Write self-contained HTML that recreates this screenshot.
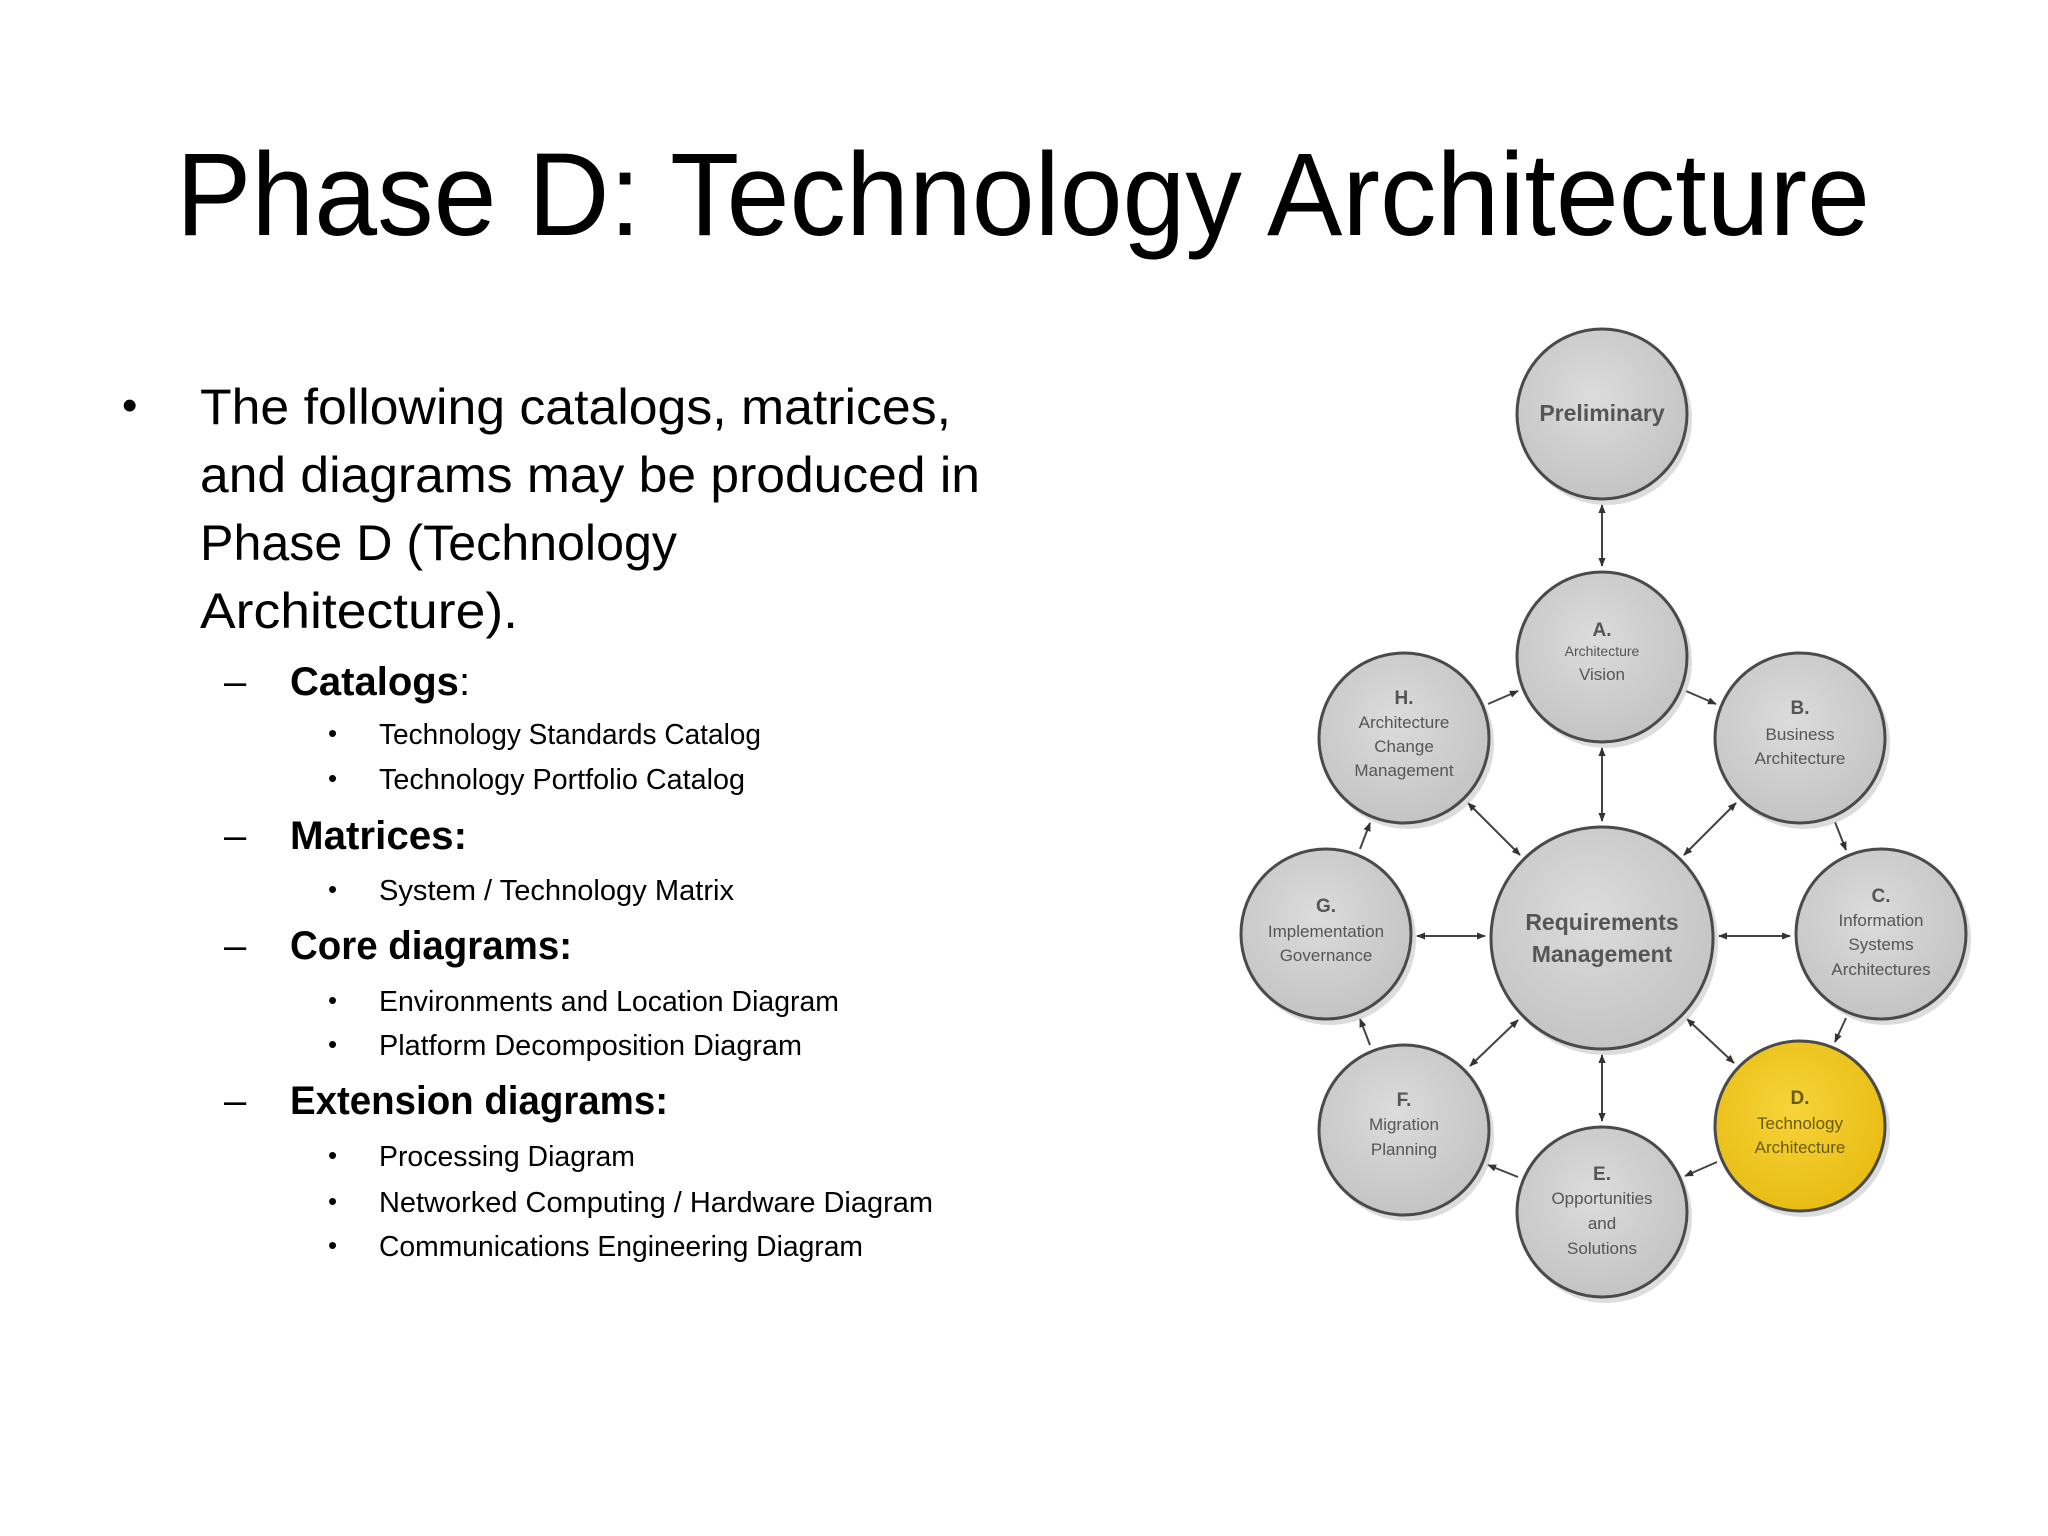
<!DOCTYPE html>
<html><head><meta charset="utf-8"><style>
html,body{margin:0;padding:0;background:#fff;}
svg{display:block}
</style></head><body>
<svg width="2048" height="1536" viewBox="0 0 2048 1536" xmlns="http://www.w3.org/2000/svg" font-family="Liberation Sans, sans-serif">
<defs>
<marker id="ah" viewBox="0 0 10 10" refX="9" refY="5" markerWidth="9" markerHeight="9" orient="auto-start-reverse" markerUnits="userSpaceOnUse"><path d="M0,1 L10,5 L0,9 z" fill="#333"/></marker>
<radialGradient id="g" cx="45%" cy="40%" r="60%"><stop offset="0" stop-color="#dcdcdc"/><stop offset="1" stop-color="#c4c4c4"/></radialGradient>
<radialGradient id="y" cx="45%" cy="40%" r="60%"><stop offset="0" stop-color="#f7d43a"/><stop offset="1" stop-color="#e8bd14"/></radialGradient>
</defs>
<rect width="2048" height="1536" fill="#fff"/>
<text x="176" y="235" font-size="118" fill="#000" textLength="1694" lengthAdjust="spacingAndGlyphs">Phase D: Technology Architecture</text>

<g fill="#000">
<text x="122" y="420" font-size="44">•</text>
<text x="200" y="424" font-size="50" textLength="751" lengthAdjust="spacingAndGlyphs">The following catalogs, matrices,</text>
<text x="200" y="492" font-size="50" textLength="780" lengthAdjust="spacingAndGlyphs">and diagrams may be produced in</text>
<text x="200" y="560" font-size="50" textLength="477" lengthAdjust="spacingAndGlyphs">Phase D (Technology</text>
<text x="200" y="628" font-size="50" textLength="318" lengthAdjust="spacingAndGlyphs">Architecture).</text>

<text x="224" y="695" font-size="40">–</text>
<text x="290" y="695" font-size="40"><tspan font-weight="bold">Catalogs</tspan>:</text>
<text x="328" y="742" font-size="26">•</text><text x="379" y="744" font-size="29" textLength="382" lengthAdjust="spacingAndGlyphs">Technology Standards Catalog</text>
<text x="328" y="787" font-size="26">•</text><text x="379" y="789" font-size="29" textLength="366" lengthAdjust="spacingAndGlyphs">Technology Portfolio Catalog</text>

<text x="224" y="849" font-size="40">–</text>
<text x="290" y="849" font-size="40" font-weight="bold" textLength="177" lengthAdjust="spacingAndGlyphs">Matrices:</text>
<text x="328" y="898" font-size="26">•</text><text x="379" y="900" font-size="29" textLength="355" lengthAdjust="spacingAndGlyphs">System / Technology Matrix</text>

<text x="224" y="959" font-size="40">–</text>
<text x="290" y="959" font-size="40" font-weight="bold" textLength="282" lengthAdjust="spacingAndGlyphs">Core diagrams:</text>
<text x="328" y="1009" font-size="26">•</text><text x="379" y="1011" font-size="29" textLength="460" lengthAdjust="spacingAndGlyphs">Environments and Location Diagram</text>
<text x="328" y="1053" font-size="26">•</text><text x="379" y="1055" font-size="29" textLength="423" lengthAdjust="spacingAndGlyphs">Platform Decomposition Diagram</text>

<text x="224" y="1114" font-size="40">–</text>
<text x="290" y="1114" font-size="40" font-weight="bold" textLength="378" lengthAdjust="spacingAndGlyphs">Extension diagrams:</text>
<text x="328" y="1164" font-size="26">•</text><text x="379" y="1166" font-size="29" textLength="256" lengthAdjust="spacingAndGlyphs">Processing  Diagram</text>
<text x="328" y="1210" font-size="26">•</text><text x="379" y="1212" font-size="29" textLength="554" lengthAdjust="spacingAndGlyphs">Networked Computing / Hardware Diagram</text>
<text x="328" y="1254" font-size="26">•</text><text x="379" y="1256" font-size="29" textLength="484" lengthAdjust="spacingAndGlyphs">Communications Engineering Diagram</text>
</g>

<g stroke="#444" stroke-width="2" fill="none">
<line x1="1602" y1="505" x2="1602" y2="566" marker-start="url(#ah)" marker-end="url(#ah)"/>
<line x1="1602" y1="748" x2="1602" y2="821" marker-start="url(#ah)" marker-end="url(#ah)"/>
<line x1="1417" y1="936" x2="1485" y2="936" marker-start="url(#ah)" marker-end="url(#ah)"/>
<line x1="1719" y1="936" x2="1790" y2="936" marker-start="url(#ah)" marker-end="url(#ah)"/>
<line x1="1468" y1="803" x2="1520" y2="855" marker-start="url(#ah)" marker-end="url(#ah)"/>
<line x1="1736" y1="803" x2="1684" y2="855" marker-start="url(#ah)" marker-end="url(#ah)"/>
<line x1="1470" y1="1066" x2="1518" y2="1020" marker-start="url(#ah)" marker-end="url(#ah)"/>
<line x1="1734" y1="1063" x2="1687" y2="1019" marker-start="url(#ah)" marker-end="url(#ah)"/>
<line x1="1602" y1="1055" x2="1602" y2="1121" marker-start="url(#ah)" marker-end="url(#ah)"/>
<line x1="1488" y1="704" x2="1518" y2="691" marker-end="url(#ah)"/>
<line x1="1686" y1="691" x2="1716" y2="704" marker-end="url(#ah)"/>
<line x1="1835" y1="822" x2="1846" y2="850" marker-end="url(#ah)"/>
<line x1="1846" y1="1018" x2="1835" y2="1042" marker-end="url(#ah)"/>
<line x1="1717" y1="1162" x2="1685" y2="1176" marker-end="url(#ah)"/>
<line x1="1518" y1="1177" x2="1488" y2="1165" marker-end="url(#ah)"/>
<line x1="1370" y1="1045" x2="1360" y2="1019" marker-end="url(#ah)"/>
<line x1="1360" y1="849" x2="1370" y2="823" marker-end="url(#ah)"/>
</g>

<g stroke="#4a4a4a" stroke-width="3">
<g fill="#bbb" stroke="none" opacity="0.5">
<circle cx="1606" cy="419" r="86"/><circle cx="1606" cy="662" r="86"/><circle cx="1408" cy="743" r="86"/><circle cx="1804" cy="743" r="86"/>
<circle cx="1330" cy="939" r="86"/><circle cx="1606" cy="943" r="112"/><circle cx="1885" cy="939" r="86"/><circle cx="1408" cy="1135" r="86"/>
<circle cx="1804" cy="1131" r="86"/><circle cx="1606" cy="1217" r="86"/>
</g>
<circle cx="1602" cy="414" r="85" fill="url(#g)"/>
<circle cx="1602" cy="657" r="85" fill="url(#g)"/>
<circle cx="1404" cy="738" r="85" fill="url(#g)"/>
<circle cx="1800" cy="738" r="85" fill="url(#g)"/>
<circle cx="1326" cy="934" r="85" fill="url(#g)"/>
<circle cx="1602" cy="938" r="111" fill="url(#g)"/>
<circle cx="1881" cy="934" r="85" fill="url(#g)"/>
<circle cx="1404" cy="1130" r="85" fill="url(#g)"/>
<circle cx="1800" cy="1126" r="85" fill="url(#y)"/>
<circle cx="1602" cy="1212" r="85" fill="url(#g)"/>
</g>

<g fill="#555" text-anchor="middle" font-size="17">
<text x="1602" y="421" font-size="23" font-weight="bold">Preliminary</text>
<text x="1602" y="636" font-weight="bold" font-size="19">A.</text><text x="1602" y="656" font-size="14">Architecture</text><text x="1602" y="680">Vision</text>
<text x="1404" y="704" font-weight="bold" font-size="19">H.</text><text x="1404" y="728">Architecture</text><text x="1404" y="752">Change</text><text x="1404" y="776">Management</text>
<text x="1800" y="714" font-weight="bold" font-size="19">B.</text><text x="1800" y="740">Business</text><text x="1800" y="764">Architecture</text>
<text x="1326" y="912" font-weight="bold" font-size="19">G.</text><text x="1326" y="937">Implementation</text><text x="1326" y="961">Governance</text>
<text x="1602" y="930" font-size="23" font-weight="bold">Requirements</text><text x="1602" y="962" font-size="23" font-weight="bold">Management</text>
<text x="1881" y="902" font-weight="bold" font-size="19">C.</text><text x="1881" y="926">Information</text><text x="1881" y="950">Systems</text><text x="1881" y="975">Architectures</text>
<text x="1404" y="1106" font-weight="bold" font-size="19">F.</text><text x="1404" y="1130">Migration</text><text x="1404" y="1155">Planning</text>
<text x="1800" y="1104" font-weight="bold" font-size="19" fill="#6a5a10">D.</text><text x="1800" y="1129" fill="#6a5a10">Technology</text><text x="1800" y="1153" fill="#6a5a10">Architecture</text>
<text x="1602" y="1180" font-weight="bold" font-size="19">E.</text><text x="1602" y="1204">Opportunities</text><text x="1602" y="1229">and</text><text x="1602" y="1254">Solutions</text>
</g>
</svg>
</body></html>
